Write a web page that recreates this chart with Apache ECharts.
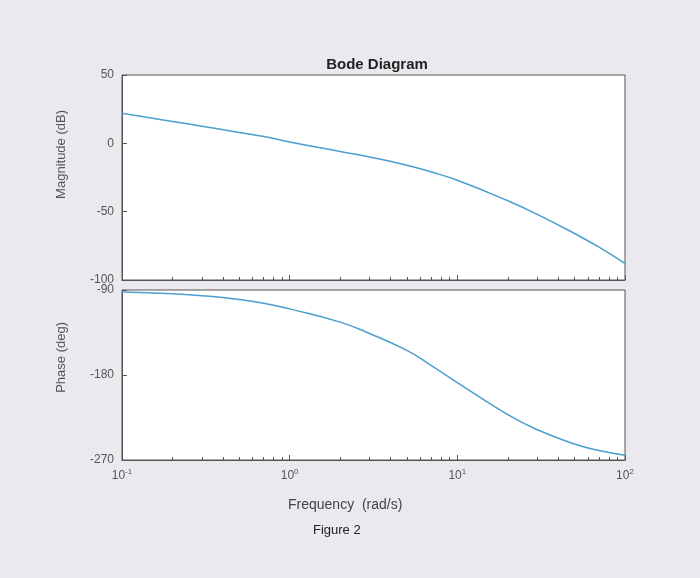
<!DOCTYPE html>
<html>
<head>
<meta charset="utf-8">
<script src="https://cdn.jsdelivr.net/npm/echarts@6/dist/echarts.min.js"></script>
<style>
body{margin:0;background:#e9e9ee;}
#main{width:700px;height:578px;}
</style>
</head>
<body>
<div id="main"></div>
<script>
var freq = [0.1, 0.2, 0.3, 0.5, 0.7, 1, 2, 3, 5, 7, 10, 20, 30, 50, 70, 100];
var magnitude = [22, 16, 12.5, 8, 5, 1, -6, -10, -16, -21, -27, -42, -52, -66, -76, -88];
var phase = [-92, -94, -96, -100, -104, -110, -124, -136, -154, -170, -188, -222, -238, -253, -260, -265];

function pairs(x, y){
    var d = [];
    for (var i = 0; i < x.length; i++) d.push([x[i], y[i]]);
    return d;
}

var myChart = echarts.init(document.getElementById('main'));
var axisLine = {show: true, onZero: false, lineStyle: {color: '#555', width: 1}};
var labelStyle = {color: '#555', fontSize: 12, fontFamily: 'Liberation Sans'};
var option = {
    backgroundColor: '#e9e9ee',
    title: {
        text: 'Bode Diagram', left: 372, top: 52, textAlign: 'center',
        textStyle: {fontSize: 15, fontWeight: 'bold', color: '#222', fontFamily: 'Liberation Sans'}
    },
    graphic: [
        {type: 'text', left: 55, top: 110, rotation: Math.PI / 2, style: {text: 'Magnitude (dB)', fill: '#555', font: '13px Liberation Sans'}},
        {type: 'text', left: 55, top: 322, rotation: Math.PI / 2, style: {text: 'Phase (deg)', fill: '#555', font: '13px Liberation Sans'}},
        {type: 'text', left: 288, top: 498, style: {text: 'Frequency  (rad/s)', fill: '#444', font: '14px Liberation Sans'}},
        {type: 'text', left: 313, top: 524, style: {text: 'Figure 2', fill: '#222', font: '13px Liberation Sans'}}
    ],
    grid: [
        {left: 122, right: 75, top: 75, height: 205, backgroundColor: '#fff', show: true, borderColor: '#555'},
        {left: 122, right: 75, top: 290, height: 170, backgroundColor: '#fff', show: true, borderColor: '#555'}
    ],
    xAxis: [
        {type: 'log', gridIndex: 0, min: 0.1, max: 100, logBase: 10, axisLine: axisLine,
         axisLabel: {show: false}, axisTick: {inside: true}, minorTick: {show: true, splitNumber: 9}, splitLine: {show: false}},
        {type: 'log', gridIndex: 1, min: 0.1, max: 100, logBase: 10, axisLine: axisLine,
         axisTick: {inside: true}, minorTick: {show: true, splitNumber: 9}, splitLine: {show: false},
         axisLabel: {
             color: '#555', fontSize: 12, fontFamily: 'Liberation Sans',
             formatter: function (v) { return '10{s|' + Math.round(Math.log10(v)) + '}'; },
             rich: {s: {fontSize: 8, verticalAlign: 'top', padding: [0, 0, 8, 0], color: '#555'}}
         }}
    ],
    yAxis: [
        {type: 'value', gridIndex: 0, min: -100, max: 50, interval: 50, axisLine: axisLine,
         axisTick: {inside: true}, splitLine: {show: false}, axisLabel: labelStyle},
        {type: 'value', gridIndex: 1, min: -270, max: -90, interval: 90, axisLine: axisLine,
         axisTick: {inside: true}, splitLine: {show: false}, axisLabel: labelStyle}
    ],
    series: [
        {type: 'line', xAxisIndex: 0, yAxisIndex: 0, smooth: true, showSymbol: false,
         lineStyle: {color: '#4a9fd0', width: 1.5}, data: pairs(freq, magnitude)},
        {type: 'line', xAxisIndex: 1, yAxisIndex: 1, smooth: true, showSymbol: false,
         lineStyle: {color: '#4a9fd0', width: 1.5}, data: pairs(freq, phase)}
    ]
};
myChart.setOption(option);
</script>
</body>
</html>
